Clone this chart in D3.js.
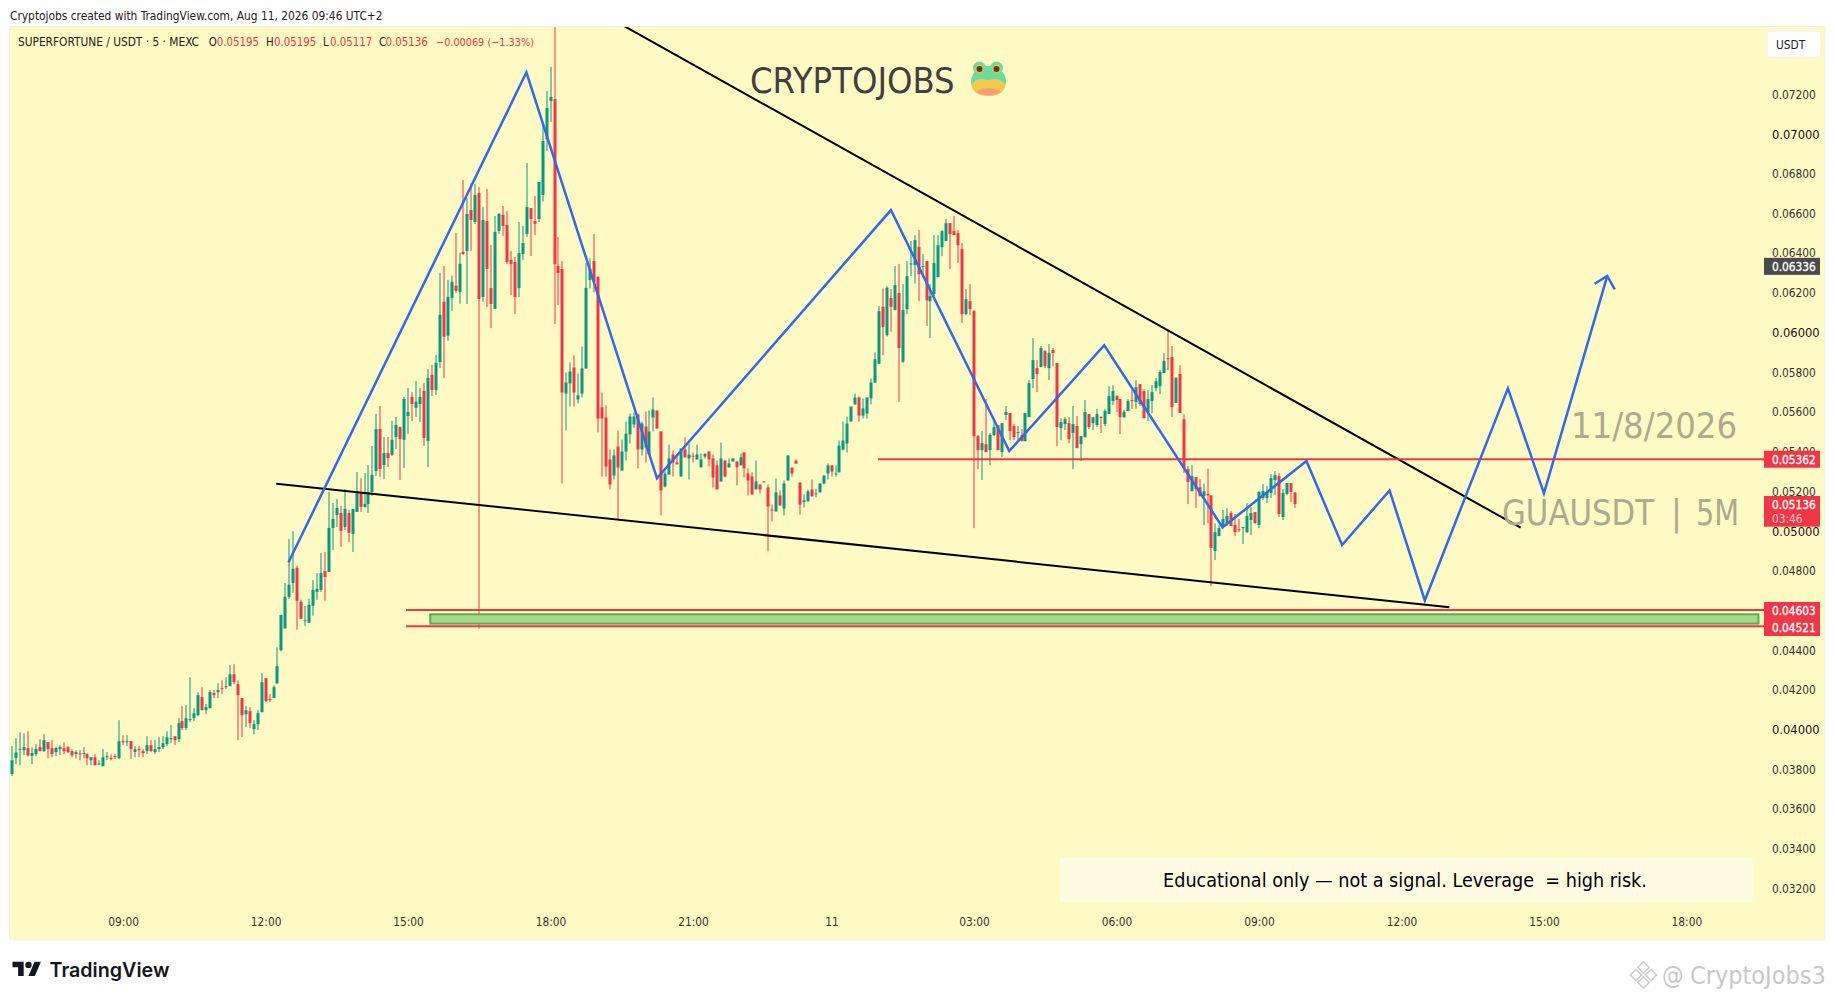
<!DOCTYPE html>
<html>
<head>
<meta charset="utf-8">
<title>GUAUSDT 5M</title>
<script src="https://d3js.org/d3.v7.min.js"></script>
<style>
body{margin:0;background:#fff;}
text{font-family:"DejaVu Sans Condensed","DejaVu Sans",sans-serif;font-stretch:condensed;}
</style>
</head>
<body>
<div id="graph"></div>
<script>
// all prices are in 1/100000 USDT, bars are 5 minute candles counted from 06:40
var opens = [
3777,3858,3900,3897,3907,3868,3877,3912,3892,3937,
3907,3887,3902,3907,3912,3892,3877,3880,3877,3877,
3846,3861,3826,3816,3861,3858,3867,3856,3942,3939,
3942,3887,3902,3892,3892,3922,3887,3902,3912,3927,
3954,3967,3952,4043,4008,4048,4058,4073,4164,4098,
4108,4184,4189,4209,4214,4219,4279,4229,4159,4078,
4093,4003,4028,4088,4259,4154,4159,4234,4400,4510,
4669,4739,4815,4644,4548,4538,4624,4694,4704,4799,
4794,5016,5081,5091,5021,5091,4986,5097,5192,5122,
5137,5197,5303,5514,5333,5393,5384,5474,5525,5460,
5580,5676,5621,5640,5706,5454,5787,5711,5852,6155,
5984,6175,6236,6205,6406,6411,6617,6557,6703,6179,
6562,6224,6120,6512,6592,6542,6366,6355,6224,6396,
6497,6627,6562,6572,6693,6975,7166,7176,6335,6320,
5693,5744,5824,5663,5693,5819,6265,6360,6280,5623,
5572,5361,5280,5426,5305,5401,5487,5537,5587,5411,
5527,5386,5572,5607,5502,5225,5285,5386,5346,5275,
5411,5366,5380,5361,5321,5376,5401,5366,5331,5250,
5356,5321,5351,5351,5331,5396,5290,5275,5210,5235,
5250,5220,5109,5099,5180,5114,5255,5320,5355,5245,
5146,5150,5210,5185,5195,5240,5290,5331,5285,5296,
5411,5441,5552,5638,5673,5582,5592,5668,5748,5843,
6130,5987,6174,6113,6199,5853,6118,6344,6340,6432,
6330,6360,6158,6194,6279,6430,6461,6551,6511,6501,
6420,6093,6158,6108,5478,5408,5438,5408,5484,5534,
5398,5585,5595,5529,5495,5484,5453,5574,5766,5821,
5826,5907,5821,5912,5846,5519,5539,5544,5494,5529,
5438,5473,5590,5544,5534,5575,5539,5590,5655,5680,
5665,5574,5605,5660,5650,5740,5705,5600,5655,5720,
5730,5796,5871,5876,5645,5791,5564,5312,5201,5272,
5221,5176,5188,5180,4900,4975,5031,5041,5091,5031,
5009,5017,4995,5056,5096,5031,5167,5167,5192,5257,
5277,5071,5187,5242,5195];
var closes = [
3846,3885,3903,3912,3871,3882,3902,3892,3947,3902,
3877,3908,3912,3892,3887,3871,3887,3877,3882,3856,
3861,3821,3830,3861,3867,3852,3861,3942,3939,3942,
3902,3902,3897,3882,3922,3892,3902,3912,3932,3962,
3957,3947,4033,4008,4058,4053,4083,4174,4098,4113,
4189,4174,4199,4204,4219,4279,4239,4174,4073,4098,
4033,4028,4083,4239,4144,4149,4214,4320,4578,4669,
4730,4810,4649,4558,4551,4629,4704,4709,4789,4769,
5016,5061,5117,5001,5112,4991,5112,5197,5122,5137,
5197,5283,5514,5313,5393,5368,5460,5535,5464,5666,
5600,5640,5651,5676,5469,5772,5711,5847,6089,5979,
6180,6256,6210,6346,6396,6597,6567,6693,6169,6567,
6320,6144,6507,6597,6537,6355,6345,6179,6401,6451,
6632,6572,6547,6758,6965,7131,7187,6345,6300,5698,
5749,5804,5698,5683,5819,6225,6320,6255,5567,5567,
5326,5235,5381,5320,5401,5491,5577,5577,5411,5542,
5421,5502,5612,5517,5205,5290,5366,5346,5336,5416,
5371,5386,5377,5386,5361,5389,5361,5270,5210,5366,
5275,5341,5366,5321,5371,5316,5255,5185,5250,5210,
5245,5124,5106,5195,5129,5240,5381,5290,5340,5134,
5155,5200,5175,5190,5240,5280,5331,5300,5290,5431,
5456,5542,5627,5673,5582,5618,5673,5748,5866,6108,
6029,6226,6130,6239,5922,6113,6284,6348,6466,6294,
6335,6163,6184,6350,6440,6511,6551,6496,6491,6440,
6093,6168,6118,5478,5408,5443,5398,5484,5524,5408,
5544,5600,5504,5474,5499,5453,5595,5745,5861,5791,
5922,5831,5897,5897,5524,5549,5564,5463,5539,5418,
5478,5600,5524,5573,5590,5570,5605,5680,5705,5660,
5574,5600,5655,5655,5725,5640,5569,5665,5700,5755,
5801,5856,5866,5625,5771,5595,5317,5247,5277,5211,
5176,5201,5180,4915,4995,5015,5061,5076,5026,4995,
5005,5021,5076,5091,5041,5197,5202,5197,5267,5282,
5086,5192,5242,5197,5136];
var highs = [
3917,3957,3986,3982,3992,3910,3927,3952,3977,3937,
3947,3912,3922,3937,3917,3902,3897,3897,3912,3882,
3861,3877,3846,3902,3887,3877,3877,4048,3972,3972,
3942,3917,3917,3902,3967,3947,3947,3962,3967,3992,
4023,3967,4058,4118,4123,4264,4108,4189,4214,4129,
4199,4199,4234,4249,4264,4325,4330,4249,4159,4118,
4113,4048,4098,4285,4259,4179,4224,4415,4578,4739,
4961,5001,4825,4654,4623,4659,4754,4789,4890,4895,
5197,5142,5162,5127,5212,5107,5112,5298,5267,5293,
5333,5429,5590,5630,5474,5474,5555,5575,5525,5676,
5721,5701,5756,5721,5746,5817,5837,5888,6301,6336,
6266,6286,6502,6402,6768,6678,6752,6748,6733,6633,
6723,6441,6587,6602,6638,6612,6411,6381,6557,6537,
6854,6627,6688,6758,7045,7217,7338,7560,6481,6360,
5799,5849,5885,5794,5930,6350,6374,6497,6285,5698,
5633,5411,5411,5507,5461,5552,5592,5597,5592,5552,
5602,5607,5673,5607,5502,5300,5436,5406,5376,5416,
5472,5441,5396,5436,5391,5393,5401,5386,5356,5446,
5356,5366,5366,5351,5391,5396,5316,5296,5356,5235,
5250,5235,5134,5265,5205,5255,5381,5320,5361,5245,
5185,5210,5260,5213,5240,5280,5341,5331,5331,5456,
5552,5577,5627,5693,5678,5668,5673,5768,5900,6134,
6222,6234,6219,6335,6345,6244,6360,6461,6491,6516,
6395,6360,6244,6491,6491,6516,6571,6551,6587,6516,
6451,6219,6244,6113,5484,5504,5665,5494,5559,5534,
5544,5630,5595,5539,5529,5514,5595,5760,5972,5861,
5932,5912,5942,5922,5846,5569,5574,5574,5630,5580,
5478,5660,5590,5573,5615,5580,5615,5730,5735,5685,
5665,5610,5665,5710,5760,5740,5715,5710,5735,5770,
5811,5896,6007,5932,5776,5836,5589,5327,5332,5272,
5262,5240,5315,5180,5039,5031,5106,5116,5101,5086,
5061,5021,5141,5121,5096,5202,5237,5227,5287,5302,
5292,5212,5242,5242,5195];
var lows = [
3767,3826,3821,3872,3865,3826,3867,3890,3888,3856,
3861,3867,3872,3877,3882,3861,3855,3846,3856,3821,
3821,3821,3821,3816,3846,3846,3852,3852,3922,3917,
3852,3861,3861,3861,3877,3887,3877,3887,3902,3917,
3932,3922,3937,3998,3998,4038,4043,4068,4098,4078,
4108,4159,4159,4179,4204,4219,4229,3947,3962,4013,
4008,3977,3998,4088,4139,4139,4159,4229,4395,4510,
4659,4689,4503,4558,4523,4538,4574,4654,4694,4649,
4794,4905,5021,4921,5006,4945,4895,5097,5097,5117,
5092,5177,5278,5273,5263,5323,5379,5414,5258,5318,
5490,5555,5575,5550,5429,5323,5681,5686,5822,5772,
5959,6109,6200,6145,6391,6144,6411,6547,4509,6154,
6129,6023,6120,6497,6487,6345,6189,6094,6179,6366,
6481,6386,6491,6557,6660,6915,7061,6043,6139,5240,
5507,5628,5628,5643,5673,5819,6223,6203,5497,5275,
5275,5210,5260,5057,5305,5356,5441,5520,5316,5381,
5346,5386,5502,5517,5079,5220,5285,5275,5336,5275,
5371,5260,5346,5361,5321,5366,5326,5220,5210,5250,
5270,5321,5351,5230,5331,5270,5180,5185,5210,5190,
5245,4897,5049,5099,5129,5079,5255,5275,5340,5084,
5119,5150,5175,5170,5195,5235,5260,5275,5275,5296,
5406,5396,5552,5638,5552,5567,5567,5638,5748,5843,
5886,5980,6004,6113,5651,5848,6093,6284,6247,6158,
6278,6033,5972,6184,6279,6385,6461,6320,6491,6350,
6048,6088,6088,5015,5312,5257,5398,5332,5479,5408,
5373,5559,5458,5458,5458,5453,5453,5574,5720,5700,
5826,5821,5761,5831,5428,5458,5509,5443,5312,5418,
5352,5473,5514,5509,5524,5494,5529,5590,5635,5600,
5489,5569,5605,5615,5615,5630,5569,5554,5594,5705,
5690,5796,5811,5574,5645,5595,5292,5136,5201,5116,
5176,5030,5040,4723,4854,4975,5015,5026,5026,4975,
4995,4935,4990,4980,5036,5015,5157,5141,5167,5182,
5071,5056,5182,5146,5117];

var priceTicks = [7200,7000,6800,6600,6400,6200,6000,5800,5600,5400,5200,5000,4800,4400,4200,4000,3800,3600,3400,3200];
// one bar is missing from the feed after 21:00, so the ticks shift by one from there on
var timeTickBars = [28,64,100,136,172,207,243,279,315,351,387,423];
var timeTickLabels = ["09:00","12:00","15:00","18:00","21:00","11","03:00","06:00","09:00","12:00","15:00","18:00"];

// drawings, as [bar, price]
var zigzag = [[69.8,4843],[129.9,7311],[162.9,5266],[222,6617],[251.9,5403],[275.9,5936],[305.8,5019],[327,5353],[336,4930],[348,5205],[356.9,4651],[377.9,5719],[387,5190],[403,6285]];
var arrowHead = [[399.8,6246],[403,6285],[404.9,6218]];
var wedgeTop = [[150,7595],[381.1,5017]];
var wedgeBottom = [[66.7,5239],[363.1,4616]];
var levelResistance = 5362, levelFrom = 218.7;
var zoneLevels = [4603,4521], zoneFrom = 99.5, levelTo = 442.6;
var zoneBox = {from:105.6, to:441.2, top:4581, bottom:4534};

var lastPrice = 5136, countdown = "03:46", hoverPrice = 6336;

var red = "#F23645", green = "#089981", blue = "#3068F4", paneColor = "#FFF9C4", ghost = "#ADAA8E";

var svg = d3.select("#graph").append("svg").attr("width",1835).attr("height",1000).style("display","block");

var x = d3.scaleLinear().domain([0,324]).range([12.3,1294.6]);
var y = d3.scaleLinear().domain([3200,7200]).range([888.5,94.3]);
var fmt = function(p){ return (p/100000).toFixed(5); };

// pane
svg.append("rect").attr("x",9.5).attr("y",26.5).attr("width",1815.5).attr("height",913.5)
	.attr("fill",paneColor).attr("stroke","#F0F0EA");
svg.append("clipPath").attr("id","pane").append("rect").attr("x",10).attr("y",27).attr("width",1815).attr("height",913);

svg.append("text").attr("x",10).attr("y",19.5).attr("font-size",11.85).attr("fill","#222")
	.text("Cryptojobs created with TradingView.com, Aug 11, 2026 09:46 UTC+2");

// axes
var yAxis = svg.append("g").attr("transform","translate(1772,0)")
	.call(d3.axisRight(y).tickValues(priceTicks).tickSize(0).tickPadding(0).tickFormat(fmt));
yAxis.select(".domain").remove();
yAxis.selectAll("text").style("font-family",null)
	.attr("font-size",function(d){ return d%1000==0 ? 12.8 : 11.8; })
	.attr("fill",function(d){ return d%1000==0 ? "#111" : "#333"; });

var xAxis = svg.append("g").attr("transform","translate(0,918)")
	.call(d3.axisBottom(x).tickValues(timeTickBars).tickSize(0).tickPadding(0)
		.tickFormat(function(d,i){ return timeTickLabels[i]; }));
xAxis.select(".domain").remove();
xAxis.selectAll("text").style("font-family",null).attr("font-size",11.8).attr("fill","#333");

// candles
var chart = svg.append("g").attr("clip-path","url(#pane)");
var candles = chart.append("g").selectAll("g").data(opens).enter().append("g")
	.attr("fill",function(d,i){ return closes[i]>=opens[i] ? green : red; });
candles.append("rect")//wick
	.attr("x",function(d,i){ return Math.round(x(i))-0.5; })
	.attr("width",1)
	.attr("y",function(d,i){ return y(highs[i]); })
	.attr("height",function(d,i){ return y(lows[i])-y(highs[i]); });
candles.append("rect")//body
	.attr("x",function(d,i){ return Math.round(x(i))-1.5; })
	.attr("width",3)
	.attr("y",function(d,i){ return y(Math.max(opens[i],closes[i])); })
	.attr("height",function(d,i){ return Math.max(1,Math.abs(y(opens[i])-y(closes[i]))); });

// drawings
var line = d3.line().x(function(d){ return x(d[0]); }).y(function(d){ return y(d[1]); });
chart.append("path").attr("d",line(wedgeTop)).attr("fill","none").attr("stroke","#000").attr("stroke-width",2);
chart.append("path").attr("d",line(wedgeBottom)).attr("fill","none").attr("stroke","#000").attr("stroke-width",2);

chart.append("rect")
	.attr("x",x(zoneBox.from)).attr("width",x(zoneBox.to)-x(zoneBox.from))
	.attr("y",y(zoneBox.top)).attr("height",y(zoneBox.bottom)-y(zoneBox.top))
	.attr("fill","#A6D78C").attr("stroke","#5AAE55").attr("stroke-width",2);

chart.selectAll(".level").data(zoneLevels).enter().append("line").attr("class","level")
	.attr("x1",x(zoneFrom)).attr("x2",x(levelTo))
	.attr("y1",function(d){ return y(d); }).attr("y2",function(d){ return y(d); })
	.attr("stroke",red).attr("stroke-width",2);
chart.append("line").attr("x1",x(levelFrom)).attr("x2",x(levelTo))
	.attr("y1",y(levelResistance)).attr("y2",y(levelResistance))
	.attr("stroke",red).attr("stroke-width",2);

chart.append("path").attr("d",line(zigzag)).attr("fill","none").attr("stroke",blue).attr("stroke-width",2.5);
chart.append("path").attr("d",line(arrowHead)).attr("fill","none").attr("stroke",blue).attr("stroke-width",2.5);

// legend line
var legend = [
	{t:"SUPERFORTUNE / USDT · 5 · MEXC",x:18,c:"#222",s:11.8},
	{t:"O",x:208.8,c:"#222",s:11.4},{t:"0.05195",x:216.7,c:red,s:11.4},
	{t:"H",x:266,c:"#222",s:11.4},{t:"0.05195",x:274,c:red,s:11.4},
	{t:"L",x:323,c:"#222",s:11.4},{t:"0.05117",x:330,c:red,s:11.4},
	{t:"C",x:379,c:"#222",s:11.4},{t:"0.05136",x:385.5,c:red,s:11.4},
	{t:"−0.00069 (−1.33%)",x:436,c:red,s:10.8}
];
svg.selectAll(".legend").data(legend).enter().append("text").attr("class","legend")
	.attr("x",function(d){ return d.x; }).attr("y",46).attr("font-size",function(d){ return d.s; })
	.attr("fill",function(d){ return d.c; }).text(function(d){ return d.t; });

// big texts
svg.append("text").attr("x",750).attr("y",93).attr("font-size",36).attr("fill","#404040").text("CRYPTOJOBS");
svg.append("text").attr("x",1571).attr("y",437.5).attr("font-size",36).attr("fill",ghost).text("11/8/2026");
svg.append("text").attr("x",1502).attr("y",525).attr("font-size",36).attr("fill",ghost)
	.attr("textLength",152).attr("lengthAdjust","spacingAndGlyphs").text("GUAUSDT");
svg.append("text").attr("x",1671).attr("y",525).attr("font-size",36).attr("fill",ghost).text("|");
svg.append("text").attr("x",1696).attr("y",525).attr("font-size",36).attr("fill",ghost)
	.attr("textLength",43).attr("lengthAdjust","spacingAndGlyphs").text("5M");

// frog next to the title
var frog = svg.append("g").attr("transform","translate(988.5,80)");
frog.append("circle").attr("cx",-9).attr("cy",-12).attr("r",6.5).attr("fill","#67DBA0");
frog.append("circle").attr("cx",8).attr("cy",-12).attr("r",6.5).attr("fill","#67DBA0");
frog.append("ellipse").attr("rx",17.5).attr("ry",15).attr("cy",1).attr("fill","#67DBA0");
frog.append("path").attr("d","M-17,5 C-10,-4 -5,0 0,0 C5,0 10,-4 17,5 C16,13 8,16 0,16 C-8,16 -16,13 -17,5Z").attr("fill","#F5C84C");
frog.append("path").attr("d","M-12,12 C-6,7 6,7 12,12 C7,16 -7,16 -12,12Z").attr("fill","#F79A76");
frog.selectAll(".eye").data([-9,8]).enter().append("circle").attr("class","eye").attr("cx",function(d){ return d; }).attr("cy",-11).attr("r",4.6).attr("fill","#F2C038");
frog.selectAll(".pupil").data([-9,8]).enter().append("circle").attr("class","pupil").attr("cx",function(d){ return d; }).attr("cy",-11).attr("r",3).attr("fill","#444");

// note at the bottom
svg.append("rect").attr("x",1059.6).attr("y",857.7).attr("width",693.4).attr("height",44.3).attr("fill","#FFFBE3");
svg.append("text").attr("x",1405).attr("y",886.5).attr("text-anchor","middle").attr("font-size",19.6).attr("fill","#000")
	.style("white-space","pre").text("Educational only — not a signal. Leverage  = high risk.");

// price scale button
svg.append("rect").attr("x",1767).attr("y",31).attr("width",54).attr("height",26).attr("rx",3).attr("fill","#fff").attr("stroke","#EEE");
svg.append("text").attr("x",1776).attr("y",48.5).attr("font-size",11.8).attr("fill","#222").text("USDT");

// price labels
function priceLabel(p,top,h,color,extra){
	svg.append("rect").attr("x",1764).attr("y",top).attr("width",56).attr("height",h).attr("fill",color);
	svg.append("text").attr("x",1772).attr("y",top+12.8).attr("font-size",11.8).attr("fill","#fff")
		.attr("stroke","#fff").attr("stroke-width",0.3).text(fmt(p));
	if (extra) svg.append("text").attr("x",1772).attr("y",top+27).attr("font-size",11.8).attr("fill","#FFC9CE").text(extra);
}
priceLabel(hoverPrice,y(hoverPrice)-8,17,"#4A4A4A");
priceLabel(levelResistance,y(levelResistance)-8.5,17,red);
priceLabel(lastPrice,496,30.7,red,countdown);
priceLabel(zoneLevels[0],602,17,red);
priceLabel(zoneLevels[1],619,17,red);

// TradingView logo
var logo = svg.append("g").attr("transform","translate(12.5,958.5) scale(0.8)").attr("fill","#131722");
logo.append("path").attr("d","M14 22H7V11H0V4h14v18zM28 22h-8l7.5-18h8L28 22z");
logo.append("circle").attr("cx",20).attr("cy",8).attr("r",4);
svg.append("text").attr("x",49.5).attr("y",977).attr("font-size",19.7).attr("font-weight",600)
	.style("font-family","Inter").style("font-stretch","normal").attr("fill","#131722").text("TradingView");

// binance square watermark
var mark = svg.append("g").attr("transform","translate(1643.5,975)").attr("fill","none").attr("stroke","#CFCFCF").attr("stroke-width",1.6);
[[0,-7.5],[-7.5,0],[7.5,0],[0,7.5]].forEach(function(o){
	mark.append("rect").attr("x",o[0]-4).attr("y",o[1]-4).attr("width",8).attr("height",8).attr("transform","rotate(45 "+o[0]+" "+o[1]+")");
});
svg.append("text").attr("x",1662).attr("y",984).attr("font-size",24).attr("fill","#C8C8C8").text("@");
svg.append("text").attr("x",1690).attr("y",984).attr("font-size",25).attr("fill","#C8C8C8").text("CryptoJobs3");
</script>
</body>
</html>
